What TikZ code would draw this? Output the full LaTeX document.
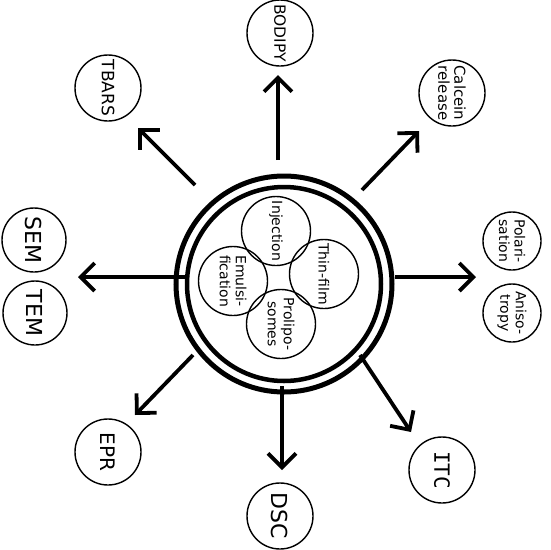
\documentclass[tikz,border=0pt]{standalone}
\usepackage{fontspec}
\setmainfont{DejaVu Sans}
\newfontfamily\monofont{DejaVu Sans Mono}
\usetikzlibrary{arrows.meta}
\newcommand{\fsz}[2]{\fontsize{#1}{#2}\selectfont}
\begin{document}
\begin{tikzpicture}[x=1pt,y=-1pt,
  bubble/.style={draw,circle,line width=1.4pt,minimum size=66pt,inner sep=0pt,rotate=-90,align=center},
  small/.style={bubble,minimum size=58pt},
  inner/.style={bubble,minimum size=69pt},
  arr/.style={line width=3.8pt,-{Straight Barb[length=14pt,width=28pt]}}]
\useasboundingbox (0,0) rectangle (550,550);
% central ring
\node[draw,circle,line width=5pt,minimum size=216pt,inner sep=0pt] (ring) at (284,284) {};
\draw[line width=4.5pt] (ring.center) circle (97);
% inner methods
\node[inner,font=\fsz{14}{16}] (inj) at (276,231) {Injection};
\node[inner,font=\fsz{14}{16}] (thin) at (324,274) {Thin-film};
\node[inner,font=\fsz{14}{16}] (emul) at (233,281) {Emulsi-\\fication};
\node[inner,font=\fsz{14}{16}] (pro) at (281,324) {Prolipo-\\somes};
% outer techniques
\node[bubble,font=\fsz{15.5}{16}] (bodipy) at (280,33) {BODIPY};
\node[bubble,font=\fsz{15}{16}] (calcein) at (452,93) {Calcein\\release};
\node[small,font=\fsz{14}{15.5}] (polar) at (512,241) {Polari-\\sation};
\node[small,font=\fsz{14}{15.5}] (aniso) at (512,313) {Aniso-\\tropy};
\node[bubble,minimum size=64pt,font=\fsz{22}{22}] (sem) at (34,240) {SEM};
\node[bubble,minimum size=64pt,font=\fsz{22}{22}] (tem) at (35,313) {TEM};
\node[bubble,font=\fsz{17}{17}] (tbars) at (108,88) {TBARS};
\node[bubble,font=\fsz{20}{20}] (epr) at (108,452) {EPR};
\node[bubble,font=\fsz{22}{22}] (dsc) at (280,516) {DSC};
\node[bubble,font=\monofont\fsz{21}{21}] (itc) at (442,470) {ITC};
% arrow ends
\coordinate (a1) at (278,160); \coordinate (b1) at (278,75);
\coordinate (a2) at (362,190); \coordinate (b2) at (419,131);
\coordinate (a3) at (395,277); \coordinate (b3) at (476,277);
\coordinate (a4) at (360,355); \coordinate (b4) at (411,432);
\coordinate (a5) at (282,386); \coordinate (b5) at (282,470);
\coordinate (a6) at (193,355); \coordinate (b6) at (135,415);
\coordinate (a7) at (189,277); \coordinate (b7) at (78,277);
\coordinate (a8) at (195,185); \coordinate (b8) at (138,128);
\foreach \i in {1,...,8} \draw[arr] (a\i) -- (b\i);
\end{tikzpicture}
\end{document}
